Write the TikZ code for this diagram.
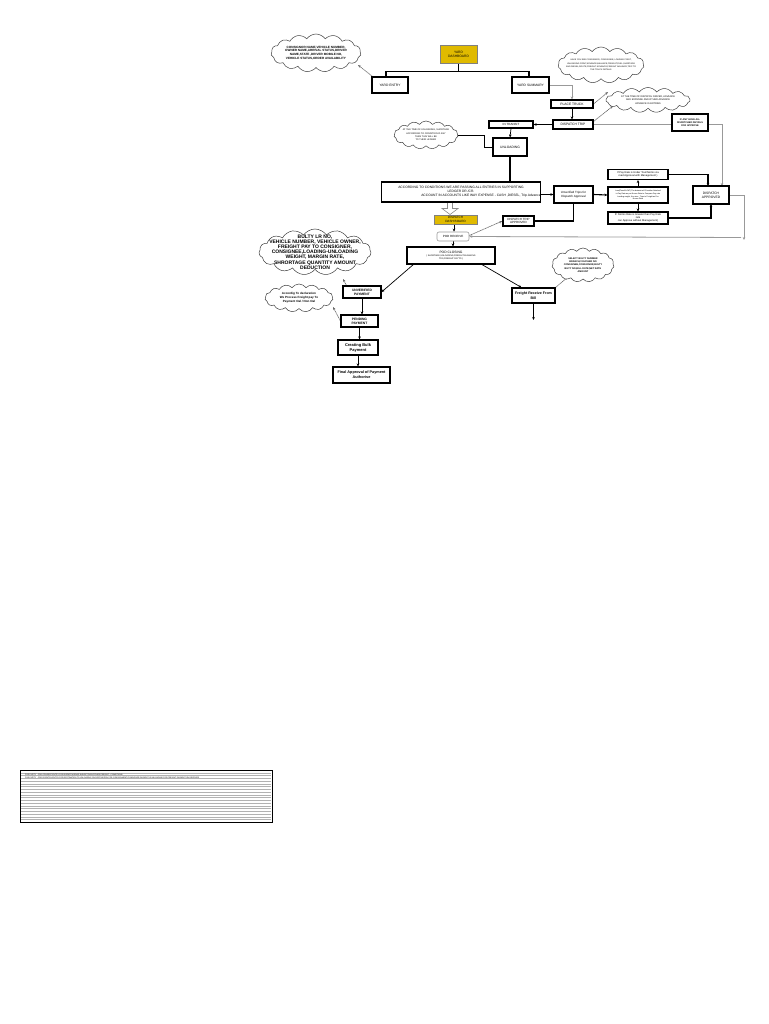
\documentclass[tikz,border=0pt]{standalone}
\usepackage{fontspec}
\setmainfont{Liberation Sans}
\usetikzlibrary{shapes.symbols,arrows.meta,backgrounds}
\definecolor{gold}{RGB}{224,186,0}
\newcommand{\fsz}[2]{\fontsize{#1}{#2}\selectfont}
\tikzset{
 box/.style={draw=black, line width=1.1pt, fill=white, inner sep=0pt, align=center, font=\fsz{3.3}{4}},
 goldbox/.style={box, draw=black!50, line width=0.6pt, fill=gold},
 cloudshape/.style={cloud, cloud puffs=15, cloud puff arc=110, cloud ignores aspect, draw=black!75, line width=0.5pt, fill=white, inner sep=0pt},
 cloudtext/.style={align=center, inner sep=0pt},
 conn/.style={draw=black, line width=1.1pt},
 thinconn/.style={draw=black, line width=0.7pt},
 ptr/.style={draw=black!60, line width=0.6pt, dash pattern=on 1.2pt off 0.5pt, -{Stealth[length=3pt,width=2.4pt]}},
 arr/.style={-{Stealth[length=3pt,width=2.6pt]}},
 grayline/.style={draw=black!40, line width=0.8pt},
}
\begin{document}
\begin{tikzpicture}[x=1pt,y=-1pt]
\useasboundingbox (0,0) rectangle (768,1024);

% ---------- clouds ----------
\node[cloudshape, minimum width=90pt, minimum height=38pt] (c1) at (316,53) {};
\node[cloudtext, font=\bfseries\fsz{3.1}{3.8}] (c1t) at (c1.center) {CONSIGNOR NAME,VEHICLE NUMBER,\\OWNER NAME,ARRIVAL STATUS,DRIVER\\NAME,STATE ,DRIVER MOBILE NO,\\VEHICLE STATUS,ORDER AVAILABILITY};

\node[cloudshape, minimum width=86pt, minimum height=36pt] (c2) at (601,65) {};
\node[cloudtext, font=\fsz{2.1}{3.2}] (c2t) at (c2.center) {HAVE YOU SEE CONSIGNOR, CONSIGNEE, LOADING POINT,\\UNLOADING POINT,ADVANCE,BALANCE,FREIGHT,FUEL,SHORTAGE\\AND DIESEL,ROUTE,FREIGHT ADVANCE,FREIGHT BALANCE,TRIP TO\\THE TRUCK DETAILS};

\node[cloudshape, minimum width=84pt, minimum height=25pt] (c3) at (648,100) {};
\node[cloudtext, font=\fsz{2.4}{3.3}] (c3t) at (c3.center) {AT THE TIME OF DISPATCH DRIVER, ADVANCE\\AND EXPENSE AND OTHER ADVANCE\\ADVANCE IS ENTRIES};

\node[cloudshape, minimum width=64pt, minimum height=28pt] (c4) at (426,135) {};
\node[cloudtext, font=\fsz{2.3}{3.2}] (c4t) at (c4.center) {AT THE TIME OF UNLOADING, SHORTAGE\\ACCORDING TO CONDITION IF ANY\\THEN THIS WILL BE\\TO THEIR LEDGER};

\node[cloudshape, minimum width=112pt, minimum height=46pt] (c5) at (315,252) {};
\node[cloudtext, font=\bfseries\fsz{5}{5.2}] (c5t) at (c5.center) {BULTY LR NO,\\VEHICLE NUMBER, VEHICLE OWNER,\\FREIGHT PAY TO CONSIGNER,\\CONSIGNEE,LOADING-UNLOADING\\WEIGHT, MARGIN RATE,\\SHRORTAGE  QUANTITY AMOUNT\\DEDUCTION};

\node[cloudshape, minimum width=68pt, minimum height=28pt] (c6) at (299,298) {};
\node[cloudtext, font=\bfseries\fsz{3}{3.8}] (c6t) at (c6.center) {Accordig To declaration\\We Process Freight pay To\\Payment Oal / Non Oal};

\node[cloudshape, minimum width=62pt, minimum height=34pt] (c7) at (583,265) {};
\node[cloudtext, font=\bfseries\fsz{2.4}{3.3}] (c7t) at (c7.center) {SELECT BULTY NUMBER\\BRANCH,VOUCHER NO\\CONSIGNEE,CONSIGNOR,BULTY\\BILTY NO,BILL DATE,NET RATE\\AMOUNT};

% ---------- boxes ----------
\node[goldbox, minimum width=37pt, minimum height=18pt] (yd) at (458.5,54) {YARD\\DASHBOARD};
\node[box, minimum width=36pt, minimum height=16pt] (ye) at (390,85) {YARD ENTRY};
\node[box, minimum width=37pt, minimum height=16pt] (ys) at (530.5,85) {YARD SUMMARY};
\node[box, minimum width=42pt, minimum height=8pt] (pt) at (572,104) {PLACE TRUCK};
\node[box, minimum width=40pt, minimum height=9pt] (dt) at (573,124.5) {DISPATCH TRIP};
\node[box, minimum width=36pt, minimum height=17pt, font=\bfseries\fsz{2.4}{3.2}] (ifany) at (690,122.5) {IF ANY HAVE ALL\\DISPATCHED DETAILS\\FOR APPROVE};
\node[box, minimum width=44pt, minimum height=7pt, font=\fsz{3}{3.6}] (it) at (511,124.5) {IN TRANSIT};
\node[box, minimum width=34pt, minimum height=18pt] (ul) at (510,147) {UNLOADING};
\node[box, minimum width=146pt, minimum height=20pt, font=\fsz{3.3}{4.1}] (big) at (461,192) {ACCORDING TO CONDITIONS WE ARE PASSING ALL ENTRIES IN SUPPORTING\\LEDGER DR./CR.\\\hspace*{40pt}ACCOUNT IN ACCOUNTS LIKE WAY EXPENSE - CASH ,DIESEL, Trip Advance};
\node[box, minimum width=39pt, minimum height=17pt, font=\fsz{3}{3.8}] (ut) at (573.5,194.5) {Unverified Trips for\\Dispatch Approval};
\node[box, minimum width=60pt, minimum height=10pt, font=\fsz{2.6}{3.4}] (rtop) at (638,174.5) {If Pay Rate is Under Tour/Norms via\\road Approval with Management )};
\node[box, minimum width=60pt, minimum height=16pt, font=\fsz{1.9}{2.7}] (rmid) at (638,195) {Load(Tons/KL/MT) The dataset will Consider Attached\\in Pay Rate as per Norms Rate to Compare Pay rate\\Loading weight, Km wise , Trips to Freight as Per\\Norms Rate};
\node[box, minimum width=60pt, minimum height=12pt, font=\fsz{2.6}{3.3}] (rbot) at (638,218) {IF Norms Rate is Greater than Pay Rate\\rate\\can Approve without Management)};
\node[box, minimum width=36pt, minimum height=18pt] (da) at (711,195) {DISPATCH\\APPROVED};
\node[goldbox, minimum width=43pt, minimum height=9pt, font=\fsz{3.1}{3.8}] (dd) at (455.5,219.5) {DISPATCH\\DASH BOARD};
\node[box, minimum width=31pt, minimum height=10pt, font=\fsz{3}{3.7}] (dta) at (518.5,221) {DISPATCH TRIP\\APPROVED};
\node[box, rounded corners=2pt, draw=black!40, line width=0.6pt, minimum width=32pt, minimum height=9pt, font=\fsz{3}{3.6}] (pr) at (453,236.5) {POD RECEIVE};
\node[box, minimum width=88pt, minimum height=17pt, font=\fsz{2.2}{3.3}] (pc) at (451,255.5) {{\fsz{3.3}{4}POD CLOSING}\\( SHORTAGE,UNLOADING,FREIGHT BLANKING\\TDS,FREIGHT PAYTO )};
\node[box, minimum width=38pt, minimum height=12pt, font=\bfseries\fsz{3.3}{4}] (up) at (362,292) {UNVERIFIED\\PAYMENT};
\node[box, minimum width=37pt, minimum height=12pt, font=\bfseries\fsz{3.3}{4}] (pp) at (359.5,321) {PENDING\\PAYMENT};
\node[box, minimum width=40pt, minimum height=15pt, font=\bfseries\fsz{4}{5}] (cb) at (358,347.5) {Creating Bulk\\Payment};
\node[box, minimum width=57pt, minimum height=16pt, font=\bfseries\fsz{3.8}{4.8}] (fa) at (361.5,375) {Final Approval of Payment\\Authorise};
\node[box, minimum width=43pt, minimum height=15pt, font=\bfseries\fsz{3.6}{4.6}] (fr) at (533.5,295.5) {Freight Receive From\\Bill};
\coordinate (frend) at (533.5,320);
\coordinate (dacorner) at (741,237.5);

% ---------- connectors ----------
\begin{pgfonlayer}{background}
\fill[white] (0,0) rectangle (768,1024);
\draw[conn] (yd.south) -- ++(0,8) coordinate (yj);
\draw[conn] (ye.north -| 386,0) |- (yj) -| (ys.north -| 529,0);
\draw[ptr] (ye.north west) ++(1,0) -- (358,65);
\draw[grayline, arr] (ys.east |- 0,85) -| (pt.north);
\draw[thinconn, arr] (pt.south) -- (pt.south |- dt.north);
\draw[ptr] (pt.east) -- (608,92);
\draw[ptr] (dt.north east) ++(0,2) -- (613,106);
\draw[grayline, arr] (dt.east) -- (722,124.5) -- (722,186);
\draw[conn, arr] (dt.west) -- (it.east);
\draw[thinconn, arr] (it.south) -- (ul.north);
\draw[thinconn] (ul.west) -- (484,147) |- (c4.east);
\draw[conn] (ul.south) -- (big.north -| ul.south);
\draw[conn, arr] (big.east |- ut.west) -- (ut.west);
\draw[conn, arr] (ut.east) -- (rmid.west);
\draw[thinconn, arr] (rmid.north) -- (rtop.south);
\draw[thinconn, arr] (rmid.south) -- (rbot.north);
\draw[conn, arr] (rtop.east) -| (708,186);
\draw[conn, arr] (rbot.east) -| (711,204);
\draw[grayline, arr] (da.east) -- (744,195) -- (744,240);
\draw[grayline, arr] (dacorner) -- (pr.east);
\draw[conn] (ut.south) |- (dta.east);
\draw[ptr] (pr.east) ++(0,-1) -- (dta.west);
\draw[draw=black!45, fill=white, line width=0.6pt] (447.5,202) -- (452.5,202) -- (452.5,208.5) -- (458,208.5) -- (450,214.5) -- (442,208.5) -- (447.5,208.5) -- cycle;
\draw[thinconn, arr] (dd.south -| 454,0) -- (pr.north -| 454,0);
\draw[thinconn, arr] (pr.south) -- (pc.north -| pr.south);
\draw[thinconn, arr] (481,264) -- ([xshift=10pt]fr.north west);
\draw[thinconn, arr] (414,264) -- (up.east);
\draw[ptr] (up.north west) ++(4,0) -- (343,279);
\draw[thinconn, arr] (up.south) -- (up.south |- pp.north);
\draw[ptr] (pp.west) -- (333,307);
\draw[thinconn, arr] (pp.south) -- (pp.south |- cb.north);
\draw[thinconn, arr] (cb.south) -- (cb.south |- fa.north);
\draw[ptr] (fr.north east) -- (568,277);
\draw[thinconn, arr] (fr.south) -- (frend);
\end{pgfonlayer}

% ---------- bottom-left notes box ----------
\draw[black, line width=0.9pt, fill=white] (20,770) rectangle (272,822);
\foreach \k in {0,...,17} {
  \draw[black!30, line width=0.9pt] (21,{773+\k*2.75}) -- (271,{773+\k*2.75});
}
\node[anchor=west, inner sep=0pt, font=\fsz{1.9}{2.2}] (n1) at (25,774.5) {FOR ENTITY : FOR CONSENT ENTRY FOR DISPATCH/ROAD BUDGET DISPATCHED FREIGHT - CONDITIONS};
\node[anchor=west, inner sep=0pt, font=\fsz{1.9}{2.2}] (n2) at (25,777.5) {FOR ENTITY : FOR DISPATCH ENTRY FOR DESTINATION TO UNLOADING ON DESTINATION FOR CONSIGNMENT/CONSIGNEE PAYMENT IS UNLOADING FOR FREIGHT PAYMENT ON RECEIVED};
\end{tikzpicture}
\end{document}
